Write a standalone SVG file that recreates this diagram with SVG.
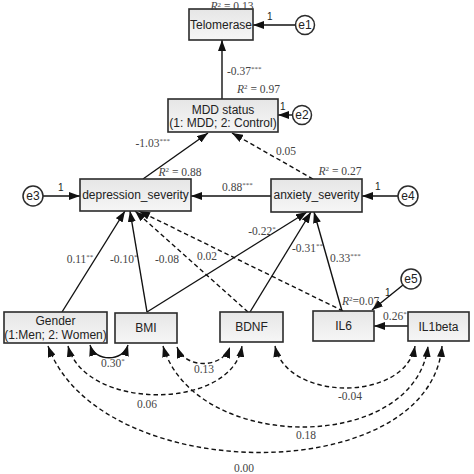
<svg xmlns="http://www.w3.org/2000/svg" width="474" height="474" viewBox="0 0 474 474">
<defs>
<linearGradient id="bg" x1="0" y1="0" x2="0" y2="1"><stop offset="0" stop-color="#e6e6e6"/><stop offset="1" stop-color="#f6f6f6"/></linearGradient>
<marker id="ah" markerUnits="userSpaceOnUse" markerWidth="11" markerHeight="8" refX="11" refY="4" orient="auto-start-reverse"><path d="M0,0 L11,4 L0,8 z" fill="#111"/></marker>
</defs>
<style>
.box{fill:url(#bg);stroke:#2b2b2b;stroke-width:1.6}
.err{fill:#fff;stroke:#2b2b2b;stroke-width:1.5}
.lbl{font-family:"Liberation Sans",Arial,sans-serif;font-size:12px;fill:#222;text-anchor:middle}
.num{font-family:"Liberation Serif","Times New Roman",serif;font-size:11.5px;fill:#444}
.one{font-family:"Liberation Sans",Arial,sans-serif;font-size:10px;fill:#222}
.c{text-anchor:middle}
.e{text-anchor:end}
.sup{font-size:7px}
.ln{fill:none;stroke:#111;stroke-width:1.4;marker-end:url(#ah)}
.ds{stroke-dasharray:4.5,3}
.cv{fill:none;stroke:#111;stroke-width:1.4;marker-start:url(#ah);marker-end:url(#ah)}
</style>
<rect width="474" height="474" fill="#fff"/>
<g id="connectors">
<line class="ln" x1="296" y1="25" x2="253" y2="25"/>
<line class="ln" x1="222" y1="99" x2="222" y2="40"/>
<line class="ln" x1="293" y1="115" x2="278" y2="115"/>
<line class="ln" x1="143" y1="179" x2="208" y2="133"/>
<line class="ln ds" x1="313" y1="179" x2="232" y2="133"/>
<line class="ln" x1="43" y1="196" x2="80" y2="196"/>
<line class="ln" x1="271" y1="196" x2="191" y2="196"/>
<line class="ln" x1="398" y1="196" x2="362" y2="196"/>
<line class="ln" x1="62" y1="312" x2="125" y2="211"/>
<line class="ln" x1="147" y1="312" x2="130" y2="211"/>
<line class="ln ds" x1="248" y1="312" x2="135" y2="211"/>
<line class="ln ds" x1="343" y1="311" x2="139" y2="211"/>
<line class="ln" x1="147" y1="312" x2="307" y2="212"/>
<line class="ln" x1="250" y1="312" x2="311" y2="212"/>
<line class="ln" x1="342" y1="311" x2="314" y2="212"/>
<line class="ln" x1="403" y1="285" x2="372" y2="310"/>
<line class="ln" x1="408" y1="326" x2="374" y2="326"/>
<path class="cv" d="M90,345 C95,362 123,362 128,345"/>
<path class="cv ds" d="M177,347 C185,369 222,369 230,347"/>
<path class="cv ds" d="M68,346 C85,411 232,411 242,346"/>
<path class="cv ds" d="M275,346 C287,402 405,402 415,346"/>
<path class="cv ds" d="M163,346 C195,454 415,454 428,346"/>
<path class="cv ds" d="M48,346 C100,488 430,488 442,346"/>
</g>
<g id="telomerase"><rect class="box" x="189" y="9" width="64" height="31"/><text class="lbl" x="221" y="29">Telomerase</text></g>
<g id="e1"><circle class="err" cx="305" cy="25" r="9.5"/><text class="lbl" x="305" y="29">e1</text></g>
<g id="mdd"><rect class="box" x="168" y="99" width="110" height="33"/><text class="lbl" x="223" y="114">MDD status</text><text class="lbl" x="223" y="127">(1: MDD; 2: Control)</text></g>
<g id="e2"><circle class="err" cx="302" cy="115" r="9.5"/><text class="lbl" x="302" y="119">e2</text></g>
<g id="depression"><rect class="box" x="80" y="179" width="111" height="32"/><text class="lbl" x="135.5" y="199">depression_severity</text></g>
<g id="e3"><circle class="err" cx="33" cy="196" r="10"/><text class="lbl" x="33" y="200">e3</text></g>
<g id="anxiety"><rect class="box" x="271" y="179" width="91" height="33"/><text class="lbl" x="316.5" y="199">anxiety_severity</text></g>
<g id="e4"><circle class="err" cx="408" cy="196" r="10"/><text class="lbl" x="408" y="200">e4</text></g>
<g id="gender"><rect class="box" x="4" y="312" width="103" height="31"/><text class="lbl" x="55.5" y="325">Gender</text><text class="lbl" x="55.5" y="339">(1:Men; 2: Women)</text></g>
<g id="bmi"><rect class="box" x="115" y="313" width="62" height="30"/><text class="lbl" x="146" y="332">BMI</text></g>
<g id="bdnf"><rect class="box" x="220" y="312" width="63" height="30"/><text class="lbl" x="251.5" y="331">BDNF</text></g>
<g id="il6"><rect class="box" x="313" y="311" width="61" height="30"/><text class="lbl" x="343.5" y="330">IL6</text></g>
<g id="e5"><circle class="err" cx="411" cy="279" r="10"/><text class="lbl" x="411" y="283">e5</text></g>
<g id="il1beta"><rect class="box" x="408" y="312" width="61" height="29"/><text class="lbl" x="438.5" y="331">IL1beta</text></g>
<g id="labels">
<text class="num c" x="232" y="10"><tspan font-style="italic">R</tspan><tspan class="sup" dy="-3">2</tspan><tspan dy="3"> = 0.13</tspan></text>
<text class="one" x="267" y="20">1</text>
<text class="num" x="227" y="75">-0.37<tspan class="sup" dy="-4">***</tspan></text>
<text class="num" x="237" y="93"><tspan font-style="italic">R</tspan><tspan class="sup" dy="-4">2</tspan><tspan dy="4"> = 0.97</tspan></text>
<text class="one" x="280" y="110">1</text>
<text class="num e" x="170" y="147">-1.03<tspan class="sup" dy="-4">***</tspan></text>
<text class="num c" x="286" y="155">0.05</text>
<text class="num c" x="180" y="176"><tspan font-style="italic">R</tspan><tspan class="sup" dy="-4">2</tspan><tspan dy="4"> = 0.88</tspan></text>
<text class="num c" x="340" y="175"><tspan font-style="italic">R</tspan><tspan class="sup" dy="-4">2</tspan><tspan dy="4"> = 0.27</tspan></text>
<text class="one" x="58" y="191">1</text>
<text class="num" x="222" y="191">0.88<tspan class="sup" dy="-4">***</tspan></text>
<text class="one" x="375" y="190">1</text>
<text class="num c" x="80" y="263">0.11<tspan class="sup" dy="-4">**</tspan></text>
<text class="num" x="110" y="263">-0.10<tspan class="sup" dy="-4">*</tspan></text>
<text class="num c" x="167" y="263">-0.08</text>
<text class="num c" x="207" y="260">0.02</text>
<text class="num c" x="262" y="235">-0.22<tspan class="sup" dy="-4">*</tspan></text>
<text class="num" x="292" y="252">-0.31<tspan class="sup" dy="-4">**</tspan></text>
<text class="num" x="330" y="262">0.33<tspan class="sup" dy="-4">***</tspan></text>
<text class="one" x="385" y="296">1</text>
<text class="num" x="342" y="305"><tspan font-style="italic">R</tspan><tspan class="sup" dy="-4">2</tspan><tspan dy="4">=0.07</tspan></text>
<text class="num" x="383" y="320">0.26<tspan class="sup" dy="-4">*</tspan></text>
<text class="num" x="101" y="367">0.30<tspan class="sup" dy="-4">*</tspan></text>
<text class="num c" x="204" y="373">0.13</text>
<text class="num c" x="147" y="408">0.06</text>
<text class="num c" x="350" y="400">-0.04</text>
<text class="num c" x="306" y="439">0.18</text>
<text class="num c" x="244" y="472">0.00</text>
</g>
</svg>
